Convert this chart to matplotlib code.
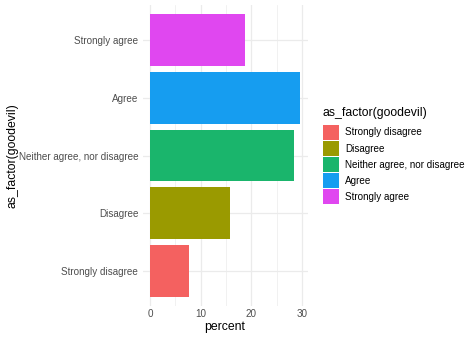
import matplotlib
matplotlib.use("Agg")
import matplotlib.pyplot as plt
from matplotlib.patches import Rectangle

categories = ["Strongly disagree", "Disagree", "Neither agree, nor disagree", "Agree", "Strongly agree"]
percent = [7.7, 15.7, 28.3, 29.6, 18.8]
colors = ["#F46160", "#9A9A00", "#1AB56C", "#169DF0", "#E047F0"]
x_ticks = [0, 10, 20, 30]

plt.rcParams['font.family'] = ['Liberation Sans', 'DejaVu Sans']

W, H = 474, 338
fig = plt.figure(figsize=(W / 100, H / 100), dpi=100)
left, right, top, bottom = 142.5, 307.6, 5.3, 305.7
ax = fig.add_axes([left / W, 1 - bottom / H, (right - left) / W, (bottom - top) / H])

ypos = list(range(1, len(categories) + 1))
ax.barh(ypos, percent, height=0.9, color=colors, zorder=2)

xmax = max(percent)
ax.set_xlim(-0.05 * xmax, xmax * 1.05)
ax.set_ylim(0.4, 5.6)
ax.set_xticks(x_ticks)
ax.set_xticks([5, 15, 25], minor=True)
ax.set_yticks(ypos)
ax.set_yticklabels(categories)
ax.grid(True, which='major', color='#EBEBEB', linewidth=0.9, zorder=0)
ax.grid(True, which='minor', axis='x', color='#EBEBEB', linewidth=0.5, zorder=0)
ax.set_axisbelow(True)
for s in ax.spines.values():
    s.set_visible(False)
ax.tick_params(axis='both', which='both', length=0, labelsize=7.1, labelcolor='#4D4D4D')
ax.tick_params(axis='y', pad=3)
ax.tick_params(axis='x', pad=2.5)
ax.set_xlabel("percent", fontsize=8.8, color='black', labelpad=1.5)
ax.set_ylabel("as_factor(goodevil)", fontsize=8.8, color='black')
ax.yaxis.set_label_coords((12 - left) / (right - left), 0.5)
ax.yaxis.label.set_va('center')

# legend (drawn in figure pixel coordinates)
def fy(py):
    return 1 - py / H

fig.text(322.5 / W, fy(113), "as_factor(goodevil)", fontsize=8.8, color='black',
         ha='left', va='center')
row0, row_h, key_h = 125.0, 16.1, 14.6
for i, (lab, col) in enumerate(zip(categories, colors)):
    ytop = row0 + i * row_h
    fig.patches.append(Rectangle((322.5 / W, fy(ytop + key_h)), 16 / W, key_h / H,
                                 transform=fig.transFigure, facecolor=col,
                                 edgecolor='none', figure=fig))
    fig.text(345 / W, fy(ytop + key_h / 2 - 0.8), lab, fontsize=7.1, color='black',
             ha='left', va='center_baseline')

fig.savefig("out.png", dpi=100)
